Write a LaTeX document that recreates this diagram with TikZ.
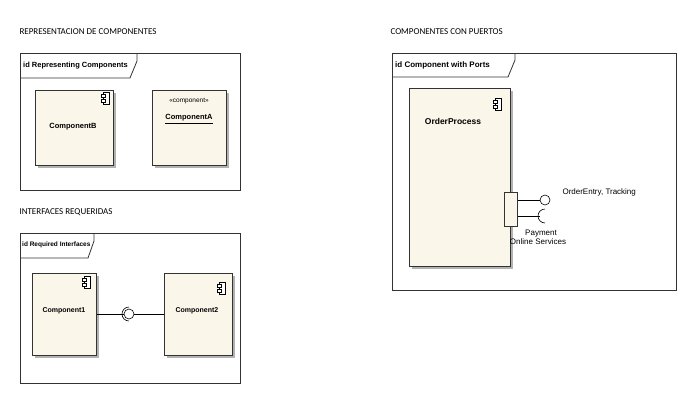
\documentclass[tikz,border=0pt]{standalone}
\usepackage{fontspec}
\setmainfont{Liberation Sans}
\newfontfamily\calfont{Carlito}
\begin{document}
\begin{tikzpicture}[x=1pt,y=-1pt,
  frame/.style={draw=black!80,line width=0.8pt},
  comp/.style={draw=black!80,fill=compfill,line width=0.7pt},
  shade/.style={fill=black!30,draw=none},
  ttl/.style={anchor=west,font=\calfont\fontsize{9}{10}\selectfont},
  tabtxt/.style={anchor=west,font=\bfseries\fontsize{7.5}{8}\selectfont,inner sep=1pt},
  lbl/.style={font=\bfseries\fontsize{7.5}{8}\selectfont},
  small/.style={font=\fontsize{7}{8}\selectfont}]
\definecolor{compfill}{HTML}{FBF6EA}
\useasboundingbox (0,0) rectangle (690,408);
\newcommand\compicon[2]{%
  \draw[black,line width=0.6pt,fill=white] (#1-3,#2-6) rectangle (#1+3,#2+6);
  \draw[black,line width=0.6pt,fill=white] (#1-5,#2-4) rectangle (#1-1,#2-1);
  \draw[black,line width=0.6pt,fill=white] (#1-5,#2+1) rectangle (#1-1,#2+4);}
% titles
\node[ttl] (t1) at (16,32) {REPRESENTACION DE COMPONENTES};
\node[ttl] (t2) at (16,212) {INTERFACES REQUERIDAS};
\node[ttl] (t3) at (387,32) {COMPONENTES CON PUERTOS};
% frame 1
\draw[frame] (20,53) rectangle (240,190);
\draw[frame] (20,78) -- (130,78) -- (137,61) -- (137,53);
\node[tabtxt] (f1) at (22,66) {id Representing Components};
\fill[shade] (38,93) rectangle (116,168);
\node[comp,minimum width=78,minimum height=75,anchor=north west] (cb) at (35,90) {};
\node[lbl] at (73,127) {ComponentB};
\compicon{106}{98}
\fill[shade] (155,93) rectangle (229,168);
\node[comp,minimum width=74,minimum height=75,anchor=north west] (ca) at (152,90) {};
\node[small,font=\fontsize{6.5}{7}\selectfont] at (189,101) {«component»};
\node[lbl] at (189,119) {\underline{ComponentA}};
% frame 2
\draw[frame] (20,233) rectangle (240,383);
\draw[frame] (20,258) -- (88,258) -- (94,241) -- (94,233);
\node[tabtxt,font=\bfseries\fontsize{6.5}{7}\selectfont] (f2) at (21,245) {id Required Interfaces};
\fill[shade] (35,276) rectangle (99,358);
\node[comp,minimum width=64,minimum height=82,anchor=north west] (c1) at (32,273) {};
\node[lbl,font=\bfseries\fontsize{7}{8}\selectfont] at (64,311) {Component1};
\compicon{87}{282}
\fill[shade] (167,276) rectangle (235,358);
\node[comp,minimum width=68,minimum height=82,anchor=north west] (c2) at (164,273) {};
\node[lbl,font=\bfseries\fontsize{7}{8}\selectfont] at (197,311) {Component2};
\compicon{222}{288}
\coordinate (ball) at (129,314);
\draw[line width=0.8pt] (c1.east |- ball) -- (124,314);
\draw[line width=0.8pt] (134,314) -- (c2.west |- ball);
\draw[line width=0.6pt,fill=white] (ball) circle (5);
\draw[line width=0.6pt] (129,321) arc[start angle=90,end angle=270,radius=7];
% frame 3
\draw[frame] (392,53) rectangle (676,290);
\draw[frame] (392,77) -- (508,77) -- (515,60) -- (515,53);
\node[tabtxt,font=\bfseries\fontsize{8}{9}\selectfont] (f3) at (394,65) {id Component with Ports};
\fill[shade] (412,91) rectangle (513,269);
\node[comp,minimum width=101,minimum height=178,anchor=north west] (op) at (409,88) {};
\node[lbl,font=\bfseries\fontsize{8.5}{9}\selectfont] at (453,121) {OrderProcess};
\compicon{498}{104}
\node[draw=black!80,fill=compfill,line width=0.7pt,minimum width=13,minimum height=34,inner sep=0,anchor=north west] (port) at (504,192) {};
\coordinate (pb) at (545,200);
\coordinate (ps) at (545,216);
\draw[line width=0.8pt] (port.east |- pb) -- (540,200);
\draw[line width=0.6pt,fill=white] (pb) circle (5);
\draw[line width=0.8pt] (port.east |- ps) -- (540,216);
\draw[line width=0.6pt] (545,223) arc[start angle=90,end angle=270,radius=7];
\node[small,font=\fontsize{8}{9}\selectfont,anchor=west] at (559,192) {OrderEntry, Tracking};
\node[small,font=\fontsize{8}{9}\selectfont] at (541,234) {Payment};
\node[small,font=\fontsize{8}{9}\selectfont] at (538,242) {Online Services};
\end{tikzpicture}
\end{document}
